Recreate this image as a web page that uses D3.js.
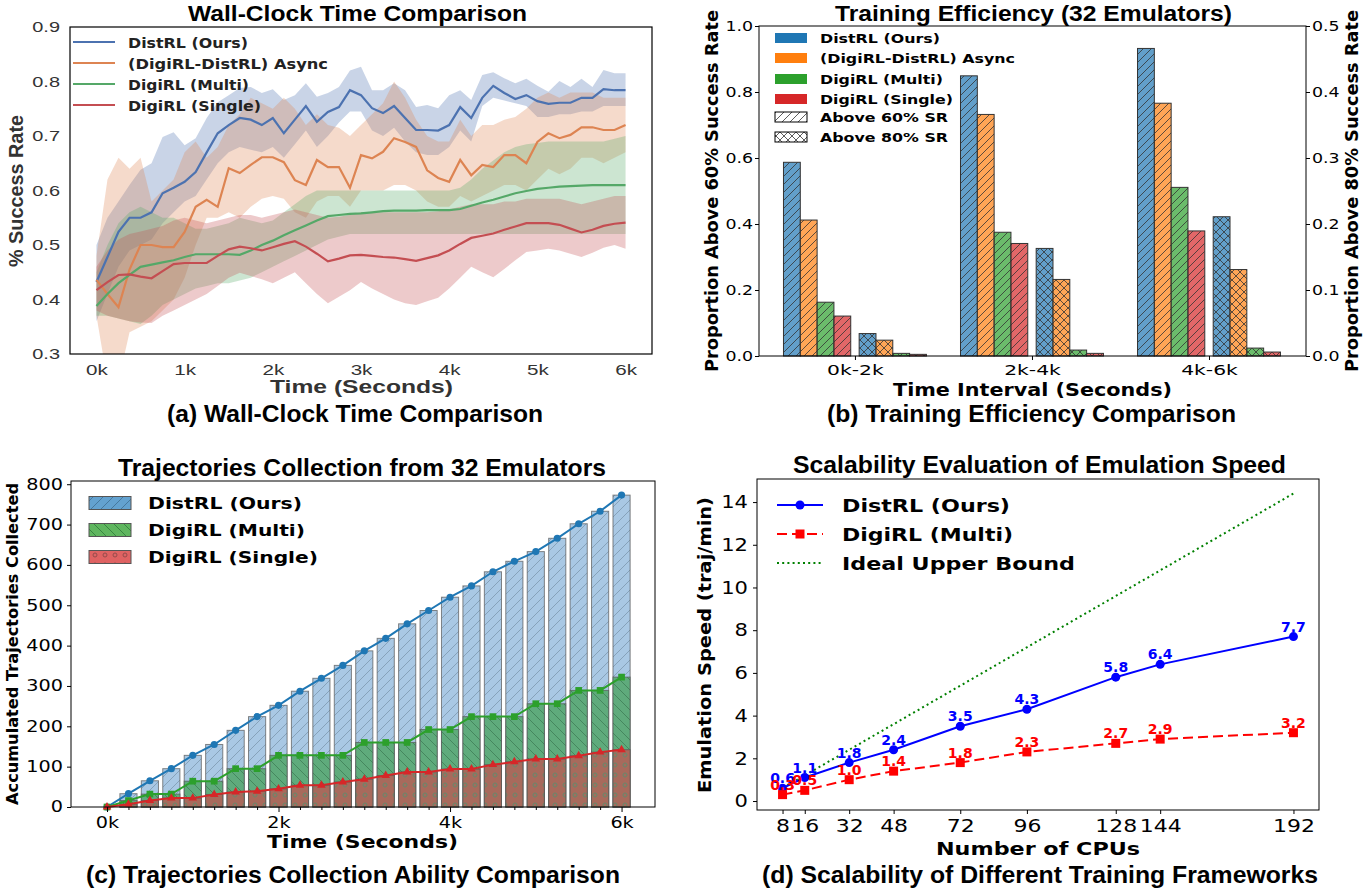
<!DOCTYPE html>
<html>
<head>
<meta charset="utf-8">
<script src="https://cdn.jsdelivr.net/npm/d3@7"></script>
<style>
  body { margin: 0; background: #fff; overflow: hidden; }
</style>
</head>
<body>
<div id="main"></div>
<script>
// ---------- (a) wall-clock time: success rate over time ----------
const stepsA = [0,125,250,375,500,625,750,875,1000,1125,1250,1375,1500,1625,1750,1875,2000,2125,2250,2375,2500,2625,2750,2875,3000,3125,3250,3375,3500,3625,3750,3875,4000,4125,4250,4375,4500,4625,4750,4875,5000,5125,5250,5375,5500,5625,5750,5875,6000];
const ticksAy = [0.3,0.4,0.5,0.6,0.7,0.8,0.9];
const ticksAx = [0,1000,2000,3000,4000,5000,6000];

const distMeanA = [0.432,0.478,0.524,0.55,0.55,0.56,0.595,0.605,0.616,0.634,0.67,0.705,0.72,0.733,0.73,0.72,0.733,0.705,0.73,0.755,0.726,0.744,0.753,0.784,0.775,0.751,0.742,0.755,0.733,0.711,0.711,0.71,0.72,0.753,0.733,0.77,0.792,0.779,0.768,0.775,0.764,0.759,0.761,0.761,0.77,0.77,0.786,0.784,0.784];
const distLoA = [0.36,0.41,0.46,0.49,0.50,0.51,0.54,0.56,0.58,0.59,0.62,0.65,0.67,0.68,0.675,0.67,0.68,0.66,0.685,0.71,0.68,0.70,0.725,0.745,0.745,0.71,0.70,0.715,0.69,0.67,0.665,0.665,0.68,0.71,0.69,0.755,0.77,0.765,0.76,0.755,0.735,0.735,0.74,0.74,0.745,0.745,0.755,0.755,0.755];
const distHiA = [0.50,0.55,0.58,0.61,0.638,0.65,0.698,0.707,0.683,0.696,0.733,0.762,0.775,0.788,0.79,0.779,0.786,0.766,0.775,0.797,0.772,0.779,0.79,0.82,0.827,0.784,0.784,0.797,0.784,0.753,0.757,0.751,0.775,0.784,0.766,0.812,0.817,0.806,0.797,0.805,0.792,0.781,0.801,0.79,0.805,0.79,0.821,0.815,0.815];

const asyncMeanA = [0.436,0.41,0.386,0.455,0.50,0.50,0.496,0.496,0.524,0.57,0.583,0.57,0.641,0.632,0.647,0.661,0.661,0.652,0.619,0.61,0.656,0.643,0.643,0.605,0.665,0.659,0.671,0.696,0.689,0.68,0.637,0.623,0.616,0.656,0.628,0.647,0.643,0.665,0.665,0.65,0.689,0.705,0.696,0.702,0.716,0.716,0.711,0.711,0.72];
const asyncLoA = [0.37,0.25,0.25,0.34,0.35,0.36,0.38,0.40,0.44,0.50,0.55,0.55,0.56,0.55,0.57,0.585,0.59,0.585,0.56,0.55,0.58,0.59,0.59,0.57,0.60,0.60,0.60,0.61,0.61,0.60,0.58,0.57,0.57,0.59,0.58,0.59,0.60,0.61,0.61,0.60,0.62,0.64,0.63,0.64,0.66,0.66,0.65,0.66,0.67];
const asyncHiA = [0.48,0.62,0.66,0.64,0.66,0.58,0.60,0.62,0.67,0.69,0.66,0.68,0.72,0.74,0.77,0.76,0.75,0.77,0.75,0.72,0.74,0.72,0.715,0.70,0.72,0.74,0.76,0.80,0.77,0.73,0.70,0.69,0.69,0.73,0.70,0.72,0.72,0.73,0.735,0.75,0.77,0.78,0.77,0.78,0.78,0.78,0.77,0.77,0.77];

const multiMeanA = [0.388,0.41,0.43,0.445,0.46,0.464,0.468,0.472,0.478,0.483,0.483,0.483,0.483,0.482,0.49,0.50,0.508,0.518,0.527,0.536,0.545,0.553,0.555,0.557,0.558,0.56,0.562,0.563,0.563,0.563,0.564,0.564,0.564,0.566,0.572,0.578,0.583,0.589,0.595,0.599,0.603,0.605,0.607,0.608,0.609,0.61,0.61,0.61,0.61];
const multiLoA = [0.37,0.37,0.365,0.36,0.355,0.37,0.39,0.40,0.41,0.42,0.425,0.43,0.43,0.435,0.44,0.45,0.46,0.47,0.48,0.49,0.50,0.51,0.515,0.52,0.52,0.52,0.52,0.52,0.52,0.52,0.52,0.52,0.52,0.52,0.52,0.52,0.52,0.52,0.52,0.52,0.52,0.52,0.52,0.52,0.52,0.52,0.52,0.52,0.52];
const multiHiA = [0.45,0.50,0.54,0.56,0.57,0.56,0.55,0.55,0.54,0.53,0.53,0.535,0.54,0.55,0.545,0.54,0.545,0.56,0.575,0.59,0.60,0.60,0.60,0.60,0.60,0.60,0.60,0.60,0.60,0.60,0.60,0.60,0.60,0.605,0.62,0.64,0.655,0.67,0.68,0.685,0.687,0.69,0.69,0.69,0.69,0.69,0.69,0.695,0.70];

const singleMeanA = [0.417,0.432,0.445,0.446,0.442,0.439,0.452,0.465,0.467,0.467,0.467,0.48,0.492,0.497,0.494,0.49,0.496,0.502,0.507,0.497,0.484,0.47,0.475,0.481,0.482,0.48,0.478,0.477,0.474,0.471,0.476,0.481,0.49,0.502,0.513,0.517,0.521,0.528,0.534,0.54,0.54,0.54,0.537,0.53,0.523,0.528,0.535,0.539,0.541];
const singleLoA = [0.38,0.37,0.365,0.36,0.358,0.357,0.37,0.38,0.39,0.40,0.41,0.425,0.44,0.449,0.443,0.437,0.43,0.44,0.45,0.43,0.41,0.393,0.405,0.417,0.432,0.42,0.41,0.40,0.393,0.39,0.397,0.403,0.42,0.44,0.46,0.45,0.441,0.456,0.472,0.487,0.49,0.493,0.49,0.484,0.478,0.486,0.495,0.5,0.493];
const singleHiA = [0.46,0.49,0.51,0.52,0.525,0.53,0.535,0.545,0.55,0.545,0.54,0.545,0.55,0.555,0.555,0.55,0.555,0.56,0.565,0.56,0.555,0.55,0.552,0.555,0.56,0.56,0.56,0.56,0.56,0.56,0.56,0.562,0.565,0.57,0.575,0.575,0.575,0.58,0.58,0.585,0.585,0.585,0.585,0.58,0.575,0.58,0.585,0.59,0.59];

// ---------- (b) training efficiency ----------
const intervals = ["0k-2k", "2k-4k", "4k-6k"];
const distAbove60 = [0.587, 0.849, 0.932];
const asyncAbove60 = [0.412, 0.732, 0.766];
const multiAbove60 = [0.163, 0.375, 0.511];
const singleAbove60 = [0.121, 0.341, 0.379];
const distAbove80 = [0.034, 0.163, 0.211];
const asyncAbove80 = [0.024, 0.116, 0.131];
const multiAbove80 = [0.004, 0.009, 0.012];
const singleAbove80 = [0.0025, 0.004, 0.006];
const ticksBleft = [0, 0.2, 0.4, 0.6, 0.8, 1.0];
const ticksBright = [0, 0.1, 0.2, 0.3, 0.4, 0.5];

// ---------- (c) trajectories collected ----------
const stepsC = [0,250,500,750,1000,1250,1500,1750,2000,2250,2500,2750,3000,3250,3500,3750,4000,4250,4500,4750,5000,5250,5500,5750,6000];
const distTraj = [0,33,65,95,128,155,190,224,252,287,319,351,387,418,454,487,520,548,583,609,633,666,702,733,773];
const multiTraj = [0,16,32,32,64,64,95,95,128,128,128,128,160,160,160,192,192,224,224,224,256,256,289,289,322];
const singleTraj = [0,7,16,22,22,31,37,39,45,54,54,62,69,78,87,87,94,94,105,112,119,119,127,136,142];
const ticksCy = [0,100,200,300,400,500,600,700,800];
const ticksCx = [0,2000,4000,6000];

// ---------- (d) scalability ----------
const cpus = [8,16,32,48,72,96,128,144,192];
const distSpeed = [0.6,1.1,1.8,2.4,3.5,4.3,5.8,6.4,7.7];
const multiSpeed = [0.3,0.5,1.0,1.4,1.8,2.3,2.7,2.9,3.2];
const idealSpeed = [0.6,1.2,2.4,3.6,5.4,7.2,9.6,10.8,14.4];
const ticksDy = [0,2,4,6,8,10,12,14];

const DEJAVU = "'DejaVu Sans', sans-serif";
const ARIAL = "'Liberation Sans', Arial, sans-serif";

const svg = d3.select("#main").append("svg")
  .attr("width", 1370)
  .attr("height", 889);
const defs = svg.append("defs");

// squeeze / stretch text horizontally
function stretch(sel, sx) {
  sel.each(function () {
    const w = this.getComputedTextLength();
    d3.select(this).attr("textLength", w * sx).attr("lengthAdjust", "spacingAndGlyphs");
  });
}

function heading(txt, cx, y, size, family, width, color) {
  const t = svg.append("text")
    .attr("x", cx).attr("y", y)
    .attr("text-anchor", "middle")
    .attr("font-family", family)
    .attr("font-size", size)
    .attr("font-weight", "bold")
    .attr("fill", color || "#000")
    .text(txt);
  if (width) t.attr("textLength", width).attr("lengthAdjust", "spacingAndGlyphs");
  return t;
}

function vheading(txt, cx, cy, size, family, length, color) {
  return svg.append("text")
    .attr("transform", `translate(${cx},${cy}) rotate(-90)`)
    .attr("text-anchor", "middle")
    .attr("dy", "0.35em")
    .attr("font-family", family)
    .attr("font-size", size)
    .attr("font-weight", "bold")
    .attr("fill", color || "#000")
    .attr("textLength", length)
    .attr("lengthAdjust", "spacingAndGlyphs")
    .text(txt);
}

function hatch(id, fill, kind, size, stroke, sw, fillOpacity) {
  const s = size;
  const p = defs.append("pattern").attr("id", id)
    .attr("patternUnits", "userSpaceOnUse")
    .attr("width", s).attr("height", s);
  p.append("rect").attr("width", s).attr("height", s)
    .attr("fill", fill).attr("fill-opacity", fillOpacity == null ? 1 : fillOpacity);
  if (kind.includes("/")) {
    p.append("path")
      .attr("d", `M${-s/2},${s/2}L${s/2},${-s/2}M0,${s}L${s},0M${s/2},${s*1.5}L${s*1.5},${s/2}`)
      .attr("stroke", stroke).attr("stroke-width", sw);
  }
  if (kind.includes("\\")) {
    p.append("path")
      .attr("d", `M${-s/2},${s/2}L${s/2},${s*1.5}M0,0L${s},${s}M${s/2},${-s/2}L${s*1.5},${s/2}`)
      .attr("stroke", stroke).attr("stroke-width", sw);
  }
  if (kind.includes("o")) {
    p.append("circle").attr("cx", s/2).attr("cy", s/2).attr("r", s*0.2)
      .attr("fill", "none").attr("stroke", stroke).attr("stroke-width", sw);
  }
}

function styleAxis(ax, family, size, color) {
  ax.attr("font-family", family).attr("font-size", size);
  ax.select(".domain").remove();
  ax.selectAll("text").attr("fill", color || "#000");
  ax.selectAll("line").attr("stroke", "#000");
}

// ================= (a) =================
function drawWallClock() {
  const left = 70, right = 652, top = 27, bottom = 354;
  const x = d3.scaleLinear().domain([-300, 6300]).range([left, right]);
  const y = d3.scaleLinear().domain([0.3, 0.9]).range([bottom, top]);
  const g = svg.append("g");

  defs.append("clipPath").attr("id", "clipA")
    .append("rect").attr("x", left).attr("y", top).attr("width", right - left).attr("height", bottom - top);

  const series = [
    {name: "DistRL (Ours)", color: "#4c72b0", mean: distMeanA, lo: distLoA, hi: distHiA, w: 120},
    {name: "(DigiRL-DistRL) Async", color: "#dd8452", mean: asyncMeanA, lo: asyncLoA, hi: asyncHiA, w: 200},
    {name: "DigiRL (Multi)", color: "#55a868", mean: multiMeanA, lo: multiLoA, hi: multiHiA, w: 121},
    {name: "DigiRL (Single)", color: "#c44e52", mean: singleMeanA, lo: singleLoA, hi: singleHiA, w: 133}
  ];

  const plot = g.append("g").attr("clip-path", "url(#clipA)");
  series.forEach(s => {
    const band = d3.area()
      .x((d, i) => x(stepsA[i]))
      .y0((d, i) => y(s.lo[i]))
      .y1((d, i) => y(s.hi[i]));
    plot.append("path").datum(s.mean)
      .attr("d", band)
      .attr("fill", s.color)
      .attr("fill-opacity", 0.3);
  });
  series.forEach(s => {
    const line = d3.line().x((d, i) => x(stepsA[i])).y(d => y(d));
    plot.append("path").datum(s.mean)
      .attr("d", line)
      .attr("fill", "none")
      .attr("stroke", s.color)
      .attr("stroke-width", 2.2);
  });

  g.append("rect").attr("x", left).attr("y", top)
    .attr("width", right - left).attr("height", bottom - top)
    .attr("fill", "none").attr("stroke", "#000").attr("stroke-width", 1.2);

  const ay = g.append("g").attr("transform", `translate(${left},0)`)
    .call(d3.axisLeft(y).tickValues(ticksAy).tickSize(0).tickPadding(10).tickFormat(d3.format(".1f")));
  styleAxis(ay, ARIAL, 15, "#333");
  stretch(ay.selectAll("text"), 1.33);

  const ax = g.append("g").attr("transform", `translate(0,${bottom})`)
    .call(d3.axisBottom(x).tickValues(ticksAx).tickSize(0).tickPadding(10).tickFormat(d => (d / 1000) + "k"));
  styleAxis(ax, ARIAL, 15.5, "#333");
  stretch(ax.selectAll("text"), 1.33);

  // legend
  series.forEach((s, i) => {
    const cy = 42 + i * 21;
    g.append("line").attr("x1", 73).attr("x2", 115).attr("y1", cy).attr("y2", cy)
      .attr("stroke", s.color).attr("stroke-width", 2.2);
    g.append("text").attr("x", 128).attr("y", cy + 5.5)
      .attr("font-family", DEJAVU).attr("font-size", 14).attr("font-weight", "bold")
      .attr("fill", "#222")
      .attr("textLength", s.w).attr("lengthAdjust", "spacingAndGlyphs")
      .text(s.name);
  });

  heading("Wall-Clock Time Comparison", 357.5, 21, 22.5, ARIAL, 339);
  heading("Time (Seconds)", 361.5, 393, 18.5, ARIAL, 183, "#333");
  vheading("% Success Rate", 16, 191, 20, ARIAL, 152, "#333");
  heading("(a) Wall-Clock Time Comparison", 355, 422, 24, ARIAL, 376);
}

// ================= (b) =================
function drawEfficiency() {
  const left = 759, right = 1306, top = 26, bottom = 356;
  const x = d3.scaleLinear().domain([-0.542, 2.548]).range([left, right]);
  const yL = d3.scaleLinear().domain([0, 1]).range([bottom, top]);
  const yR = d3.scaleLinear().domain([0, 0.5]).range([bottom, top]);
  const g = svg.append("g");

  const colors = ["#1f77b4", "#ff7f0e", "#2ca02c", "#d62728"];
  const names = ["DistRL (Ours)", "(DigiRL-DistRL) Async", "DigiRL (Multi)", "DigiRL (Single)"];
  const v60 = [distAbove60, asyncAbove60, multiAbove60, singleAbove60];
  const v80 = [distAbove80, asyncAbove80, multiAbove80, singleAbove80];

  colors.forEach((c, k) => {
    hatch("b60-" + k, c, "/", 8, "#333", 0.8, 0.7);
    hatch("b80-" + k, c, "/\\", 8, "#333", 0.8, 0.7);
  });
  hatch("b60-leg", "#fff", "/", 8, "#333", 0.8);
  hatch("b80-leg", "#fff", "/\\", 8, "#333", 0.8);

  const w = 0.095;
  const bw = x(w) - x(0);
  colors.forEach((c, k) => {
    g.append("g").selectAll("rect").data(v60[k]).join("rect")
      .attr("x", (d, i) => x(i + (k - 3.75) * w) - bw / 2)
      .attr("width", bw)
      .attr("y", d => yL(d))
      .attr("height", d => yL(0) - yL(d))
      .attr("fill", `url(#b60-${k})`)
      .attr("stroke", "#333").attr("stroke-width", 1);
    g.append("g").selectAll("rect").data(v80[k]).join("rect")
      .attr("x", (d, i) => x(i + (k + 0.75) * w) - bw / 2)
      .attr("width", bw)
      .attr("y", d => yR(d))
      .attr("height", d => yR(0) - yR(d))
      .attr("fill", `url(#b80-${k})`)
      .attr("stroke", "#333").attr("stroke-width", 1);
  });

  g.append("rect").attr("x", left).attr("y", top)
    .attr("width", right - left).attr("height", bottom - top)
    .attr("fill", "none").attr("stroke", "#000").attr("stroke-width", 1);

  const al = g.append("g").attr("transform", `translate(${left},0)`)
    .call(d3.axisLeft(yL).tickValues(ticksBleft).tickSize(4).tickPadding(2).tickFormat(d3.format(".1f")));
  styleAxis(al, DEJAVU, 14);
  stretch(al.selectAll("text"), 1.24);

  const ar = g.append("g").attr("transform", `translate(${right},0)`)
    .call(d3.axisRight(yR).tickValues(ticksBright).tickSize(4).tickPadding(2).tickFormat(d3.format(".1f")));
  styleAxis(ar, DEJAVU, 14);
  stretch(ar.selectAll("text"), 1.24);

  const ab = g.append("g").attr("transform", `translate(0,${bottom})`)
    .call(d3.axisBottom(x).tickValues([0, 1, 2]).tickSize(4).tickPadding(5).tickFormat(i => intervals[i]));
  styleAxis(ab, DEJAVU, 14);
  stretch(ab.selectAll("text"), 1.45);

  // legend
  const legW = [120, 195, 123, 133, 128, 128];
  const legItems = names.map((n, k) => ({label: n, fill: colors[k], stroke: "none"}))
    .concat([{label: "Above 60% SR", fill: "url(#b60-leg)", stroke: "#000"},
             {label: "Above 80% SR", fill: "url(#b80-leg)", stroke: "#000"}]);
  const rowsY = [38, 58, 79, 99, 117, 137];
  legItems.forEach((it, i) => {
    g.append("rect").attr("x", 775).attr("y", rowsY[i] - 5).attr("width", 32).attr("height", 10)
      .attr("fill", it.fill).attr("stroke", it.stroke).attr("stroke-width", 1);
    g.append("text").attr("x", 820).attr("y", rowsY[i] + 4.5)
      .attr("font-family", DEJAVU).attr("font-size", 12.5).attr("font-weight", "bold")
      .attr("textLength", legW[i]).attr("lengthAdjust", "spacingAndGlyphs")
      .text(it.label);
  });

  heading("Training Efficiency (32 Emulators)", 1033.5, 21, 22.5, ARIAL, 397);
  heading("Time Interval (Seconds)", 1032.5, 396, 17, DEJAVU, 279);
  vheading("Proportion Above 60% Success Rate", 712, 191, 18, DEJAVU, 362);
  vheading("Proportion Above 80% Success Rate", 1352, 191, 18, DEJAVU, 362);
  heading("(b) Training Efficiency Comparison", 1031.5, 422, 24, ARIAL, 409);
}

// ================= (c) =================
function drawTrajectories() {
  const left = 71, right = 655, top = 481, bottom = 807;
  const x = d3.scaleLinear().domain([-420, 6390]).range([left, right]);
  const y = d3.scaleLinear().domain([0, 808]).range([bottom, top]);
  const g = svg.append("g");

  hatch("c-blue", "#a9c8e4", "/", 10, "#7d98b0", 0.8);
  hatch("c-green", "#5fab7c", "\\", 10, "#3f7d57", 0.8);
  hatch("c-red", "#a86a5c", "o", 10, "#5e8c6c", 0.9);
  hatch("c-blue-leg", "#63a2d0", "/", 10, "#3f6f92", 0.8);
  hatch("c-green-leg", "#5fb65f", "\\", 10, "#2f7a3a", 0.8);
  hatch("c-red-leg", "#df6262", "o", 10, "#8a4a4a", 0.9);

  const bw = x(200) - x(0);
  const layers = [
    {vals: distTraj, fill: "url(#c-blue)"},
    {vals: multiTraj, fill: "url(#c-green)"},
    {vals: singleTraj, fill: "url(#c-red)"}
  ];
  layers.forEach(l => {
    const pts = stepsC.map((t, i) => ({t: t, v: l.vals[i]})).filter(d => d.v > 0);
    g.append("g").selectAll("rect").data(pts).join("rect")
      .attr("x", d => x(d.t) - bw / 2)
      .attr("width", bw)
      .attr("y", d => y(d.v))
      .attr("height", d => y(0) - y(d.v))
      .attr("fill", l.fill)
      .attr("stroke", "#555").attr("stroke-opacity", 0.7).attr("stroke-width", 1);
  });

  const lines = [
    {vals: distTraj, color: "#1f77b4", marker: "circle"},
    {vals: multiTraj, color: "#2ca02c", marker: "square"},
    {vals: singleTraj, color: "#d62728", marker: "triangle"}
  ];
  lines.forEach(l => {
    g.append("path").datum(l.vals)
      .attr("d", d3.line().x((d, i) => x(stepsC[i])).y(d => y(d)))
      .attr("fill", "none").attr("stroke", l.color).attr("stroke-width", 2);
    const sym = l.marker == "circle" ? d3.symbolCircle : (l.marker == "square" ? d3.symbolSquare : d3.symbolTriangle);
    const size = l.marker == "circle" ? 40 : (l.marker == "square" ? 45 : 32);
    g.append("g").selectAll("path").data(l.vals).join("path")
      .attr("transform", (d, i) => `translate(${x(stepsC[i])},${y(d)})`)
      .attr("d", d3.symbol().type(sym).size(size))
      .attr("fill", l.color);
  });

  g.append("rect").attr("x", left).attr("y", top)
    .attr("width", right - left).attr("height", bottom - top)
    .attr("fill", "none").attr("stroke", "#000").attr("stroke-width", 1);

  const ay = g.append("g").attr("transform", `translate(${left},0)`)
    .call(d3.axisLeft(y).tickValues(ticksCy).tickSize(4).tickPadding(4));
  styleAxis(ay, DEJAVU, 15.5);
  stretch(ay.selectAll("text"), 1.24);

  const minor = g.append("g").attr("transform", `translate(0,${bottom})`)
    .call(d3.axisBottom(x).tickValues(stepsC.filter(t => t % 2000 != 0)).tickSize(3).tickFormat(""));
  styleAxis(minor, DEJAVU, 10);
  const ax = g.append("g").attr("transform", `translate(0,${bottom})`)
    .call(d3.axisBottom(x).tickValues(ticksCx).tickSize(5).tickPadding(5).tickFormat(d => (d / 1000) + "k"));
  styleAxis(ax, DEJAVU, 15.5);
  stretch(ax.selectAll("text"), 1.24);

  // legend
  const leg = [
    {label: "DistRL (Ours)", fill: "url(#c-blue-leg)", w: 154},
    {label: "DigiRL (Multi)", fill: "url(#c-green-leg)", w: 157},
    {label: "DigiRL (Single)", fill: "url(#c-red-leg)", w: 170}
  ];
  leg.forEach((it, i) => {
    const cy = 503 + i * 27;
    g.append("rect").attr("x", 89).attr("y", cy - 6.5).attr("width", 42).attr("height", 13)
      .attr("fill", it.fill).attr("stroke", "#555").attr("stroke-width", 1);
    g.append("text").attr("x", 148).attr("y", cy + 6)
      .attr("font-family", DEJAVU).attr("font-size", 16).attr("font-weight", "bold")
      .attr("textLength", it.w).attr("lengthAdjust", "spacingAndGlyphs")
      .text(it.label);
  });

  heading("Trajectories Collection from 32 Emulators", 362, 476, 24, ARIAL, 488);
  heading("Time (Seconds)", 362.5, 848, 17, DEJAVU, 191);
  vheading("Accumulated Trajectories Collected", 13, 644, 15, DEJAVU, 322);
  heading("(c) Trajectories Collection Ability Comparison", 353, 883, 24, ARIAL, 534);
}

// ================= (d) =================
function drawScalability() {
  const left = 757, right = 1319, top = 479, bottom = 810;
  const x = d3.scaleLinear().domain([-1.2, 201.2]).range([left, right]);
  const y = d3.scaleLinear().domain([-0.42, 15.08]).range([bottom, top]);
  const g = svg.append("g");

  const line = d3.line().x((d, i) => x(cpus[i])).y(d => y(d));

  g.append("path").datum(idealSpeed).attr("d", line)
    .attr("fill", "none").attr("stroke", "#008000").attr("stroke-width", 2)
    .attr("stroke-dasharray", "2,3.2");

  g.append("path").datum(distSpeed).attr("d", line)
    .attr("fill", "none").attr("stroke", "#0000ff").attr("stroke-width", 2);
  g.append("g").selectAll("circle").data(distSpeed).join("circle")
    .attr("cx", (d, i) => x(cpus[i])).attr("cy", d => y(d)).attr("r", 4.5)
    .attr("fill", "#0000ff");

  g.append("path").datum(multiSpeed).attr("d", line)
    .attr("fill", "none").attr("stroke", "#ff0000").attr("stroke-width", 2)
    .attr("stroke-dasharray", "10,5");
  g.append("g").selectAll("rect").data(multiSpeed).join("rect")
    .attr("x", (d, i) => x(cpus[i]) - 4.5).attr("y", d => y(d) - 4.5)
    .attr("width", 9).attr("height", 9)
    .attr("fill", "#ff0000");

  [{vals: distSpeed, color: "#0000ff"}, {vals: multiSpeed, color: "#ff0000"}].forEach(s => {
    g.append("g").selectAll("text").data(s.vals).join("text")
      .attr("x", (d, i) => x(cpus[i])).attr("y", d => y(d) - 5)
      .attr("text-anchor", "middle")
      .attr("font-family", DEJAVU).attr("font-size", 14).attr("font-weight", "bold")
      .attr("fill", s.color)
      .text(d => d3.format(".1f")(d));
  });

  g.append("rect").attr("x", left).attr("y", top)
    .attr("width", right - left).attr("height", bottom - top)
    .attr("fill", "none").attr("stroke", "#000").attr("stroke-width", 1);

  const ay = g.append("g").attr("transform", `translate(${left},0)`)
    .call(d3.axisLeft(y).tickValues(ticksDy).tickSize(4).tickPadding(5));
  styleAxis(ay, DEJAVU, 18);
  stretch(ay.selectAll("text"), 1.17);

  const ax = g.append("g").attr("transform", `translate(0,${bottom})`)
    .call(d3.axisBottom(x).tickValues(cpus).tickSize(4).tickPadding(5).tickFormat(d3.format("d")));
  styleAxis(ax, DEJAVU, 18);
  stretch(ax.selectAll("text"), 1.22);

  // legend
  const leg = [
    {label: "DistRL (Ours)", color: "#0000ff", dash: null, marker: "circle", w: 168},
    {label: "DigiRL (Multi)", color: "#ff0000", dash: "10,5", marker: "square", w: 171},
    {label: "Ideal Upper Bound", color: "#008000", dash: "2,3.2", marker: null, w: 233}
  ];
  leg.forEach((it, i) => {
    const cy = 505 + i * 29;
    g.append("line").attr("x1", 777).attr("x2", 823).attr("y1", cy).attr("y2", cy)
      .attr("stroke", it.color).attr("stroke-width", 2)
      .attr("stroke-dasharray", it.dash);
    if (it.marker == "circle") {
      g.append("circle").attr("cx", 800).attr("cy", cy).attr("r", 4.5).attr("fill", it.color);
    } else if (it.marker == "square") {
      g.append("rect").attr("x", 795.5).attr("y", cy - 4.5).attr("width", 9).attr("height", 9).attr("fill", it.color);
    }
    g.append("text").attr("x", 842).attr("y", cy + 7)
      .attr("font-family", DEJAVU).attr("font-size", 18).attr("font-weight", "bold")
      .attr("textLength", it.w).attr("lengthAdjust", "spacingAndGlyphs")
      .text(it.label);
  });

  heading("Scalability Evaluation of Emulation Speed", 1039.5, 473, 24, ARIAL, 493);
  heading("Number of CPUs", 1038, 855, 18, DEJAVU, 204);
  vheading("Emulation Speed (traj/min)", 705, 645, 18, DEJAVU, 296);
  heading("(d) Scalability of Different Training Frameworks", 1040, 883, 24, ARIAL, 556);
}

drawWallClock();
drawEfficiency();
drawTrajectories();
drawScalability();
</script>
</body>
</html>
